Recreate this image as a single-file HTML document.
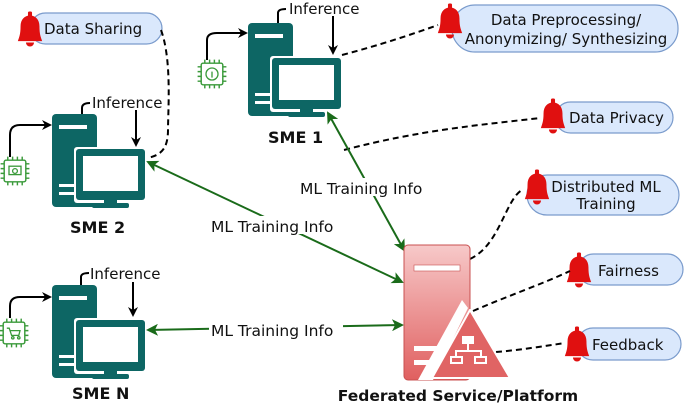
<!DOCTYPE html>
<html><head><meta charset="utf-8"><style>
html,body{margin:0;padding:0;background:#fff}
svg{display:block}
text{font-family:"DejaVu Sans","Liberation Sans",sans-serif}
</style></head><body>
<svg width="685" height="406" viewBox="0 0 685 406" xmlns="http://www.w3.org/2000/svg">
<defs>
<marker id="ab" markerWidth="10" markerHeight="10" refX="8" refY="5" orient="auto" markerUnits="userSpaceOnUse"><path d="M0,0 L10,5 L0,10 L3,5z" fill="#000"/></marker>
<marker id="ag" markerWidth="12" markerHeight="12" refX="10" refY="6" orient="auto-start-reverse" markerUnits="userSpaceOnUse"><path d="M0,0 L12,6 L0,12 L3,6z" fill="#1a6b1a"/></marker>
<linearGradient id="rg" x1="0" y1="0" x2="0" y2="1"><stop offset="0" stop-color="#f7c9c9"/><stop offset="1" stop-color="#e06060"/></linearGradient>
<g id="pc">
 <rect x="0" y="0" width="45" height="93" rx="4" fill="#0d6664"/>
 <rect x="7" y="11" width="28" height="4" fill="#fff"/>
 <rect x="7" y="70" width="20" height="3" fill="#fff"/>
 <rect x="7" y="78" width="20" height="3" fill="#fff"/>
 <rect x="22" y="33" width="73" height="56" rx="3" fill="#fff"/>
 <rect x="24" y="35" width="69" height="51" rx="3" fill="#0d6664"/>
 <rect x="31" y="42" width="55" height="35" fill="#fff"/>
 <rect x="52" y="84" width="13" height="8" fill="#0d6664"/>
 <rect x="40" y="89" width="37" height="5" rx="2" fill="#0d6664"/>
</g>
<g id="chip" fill="none" stroke="#3a9a3a" stroke-width="1.2">
 <rect x="-9" y="-9" width="18" height="18" rx="1.5"/>
 <path d="M-6,-9v-3M-2,-9v-3M2,-9v-3M6,-9v-3M-6,9v3M-2,9v3M2,9v3M6,9v3M-9,-6h-3M-9,-2h-3M-9,2h-3M-9,6h-3M9,-6h3M9,-2h3M9,2h3M9,6h3"/>
</g>
<g id="bell0"><path d="M-9,9 C-8,6 -7,4 -7,-2 C-7,-7 -4,-10 0,-10 C4,-10 7,-7 7,-2 C7,4 8,6 9,9z" fill="#e01010"/><rect x="-1.5" y="-13" width="3" height="4" rx="1" fill="#e01010"/><path d="M-3,10 a3,3 0 0 0 6,0z" fill="#e01010"/></g>
<g id="bell"><use href="#bell0" transform="scale(1.35)"/></g>
</defs>

<!-- pills -->
<g fill="#dae8fc" stroke="#7a9bcc" stroke-width="1.2">
 <rect x="30" y="13" width="132" height="31" rx="15.5"/>
 <rect x="452" y="5" width="226" height="47" rx="23"/>
 <rect x="555" y="102" width="118" height="31" rx="15.5"/>
 <rect x="527" y="175" width="152" height="40" rx="20"/>
 <rect x="578" y="254" width="105" height="31" rx="15.5"/>
 <rect x="577" y="328" width="104" height="32" rx="16"/>
</g>
<g font-size="15" fill="#111">
 <text x="44" y="34">Data Sharing</text>
 <text x="566" y="25" text-anchor="middle">Data Preprocessing/</text>
 <text x="566" y="44" text-anchor="middle">Anonymizing/ Synthesizing</text>
 <text x="569" y="123">Data Privacy</text>
 <text x="606" y="192" text-anchor="middle">Distributed ML</text>
 <text x="606" y="209" text-anchor="middle">Training</text>
 <text x="598" y="276">Fairness</text>
 <text x="592" y="350">Feedback</text>
</g>
<use href="#bell" x="30" y="29"/>
<use href="#bell" x="450" y="21"/>
<use href="#bell" x="553" y="116"/>
<use href="#bell" x="537" y="187"/>
<use href="#bell" x="579" y="270"/>
<use href="#bell" x="577" y="344"/>

<!-- dashed -->
<g fill="none" stroke="#000" stroke-width="2" stroke-dasharray="6,4">
 <path d="M161,30 C172,60 168,110 168,130 C168,150 160,155 148,158"/>
 <path d="M342,55 C380,45 410,35 438,25"/>
 <path d="M344,150 C420,130 480,125 540,118"/>
 <path d="M470,259 C500,245 505,200 522,190"/>
 <path d="M473,311 C510,295 540,285 570,271"/>
 <path d="M496,352 C520,350 545,346 565,343"/>
</g>

<!-- computers -->
<use href="#pc" x="52" y="114"/>
<use href="#pc" x="248" y="23"/>
<use href="#pc" x="52" y="285"/>
<g font-size="16" font-weight="bold" fill="#111">
 <text x="70" y="233">SME 2</text>
 <text x="268" y="143">SME 1</text>
 <text x="72" y="399">SME N</text>
</g>
<g font-size="15" fill="#111">
 <text x="92" y="108">Inference</text>
 <text x="289" y="14">Inference</text>
 <text x="90" y="279">Inference</text>
</g>
<g fill="none" stroke="#000" stroke-width="2">
 <path d="M82,114 v-6 q0,-5 8,-5"/>
 <path d="M136,110 v35" marker-end="url(#ab)"/>
 <path d="M278,23 v-10 q0,-4 8,-4"/>
 <path d="M333,16 v37" marker-end="url(#ab)"/>
 <path d="M81,285 v-8 q0,-4 8,-4"/>
 <path d="M133,282 v33" marker-end="url(#ab)"/>
 <path d="M10,157 v-22 q0,-10 10,-10 h30" marker-end="url(#ab)"/>
 <path d="M207,60 v-20 q0,-7 10,-7 h29" marker-end="url(#ab)"/>
 <path d="M10,318 v-12 q0,-9 10,-9 h30" marker-end="url(#ab)"/>
</g>
<g transform="translate(15,171) scale(1.2)">
<use href="#chip"/>
<g fill="none" stroke="#3a9a3a" stroke-width="1.1"><rect x="-5" y="-4" width="10" height="7"/><circle cx="0" cy="0" r="2"/></g></g>
<g transform="translate(212,74) scale(1.2)">
<use href="#chip"/>
<g fill="none" stroke="#3a9a3a" stroke-width="1.1"><circle cx="0" cy="0" r="5"/><path d="M0,-2v5"/></g></g>
<g transform="translate(14,333) scale(1.2)">
<use href="#chip"/>
<g fill="none" stroke="#3a9a3a" stroke-width="1.1"><path d="M-6,-4h2l2,6h6l1,-4h-8"/><circle cx="-1" cy="4" r="1"/><circle cx="4" cy="4" r="1"/></g></g>

<!-- green connectors -->
<g fill="none" stroke="#1a6b1a" stroke-width="2">
 <path d="M328,113 L404,250" marker-start="url(#ag)" marker-end="url(#ag)"/>
 <path d="M148,162 L402,282" marker-start="url(#ag)" marker-end="url(#ag)"/>
 <path d="M148,330 L402,325" marker-start="url(#ag)" marker-end="url(#ag)"/>
</g>
<g font-size="15.5" fill="#111">
 <rect x="298" y="178" width="134" height="18" fill="#fff"/>
 <text x="300" y="194">ML Training Info</text>
 <rect x="209" y="216" width="134" height="18" fill="#fff"/>
 <text x="211" y="232">ML Training Info</text>
 <rect x="209" y="321" width="134" height="18" fill="#fff"/>
 <text x="211" y="336">ML Training Info</text>
</g>

<!-- server -->
<rect x="404" y="245" width="66" height="135" rx="4" fill="url(#rg)" stroke="#c85050" stroke-width="1"/>
<rect x="414" y="265" width="46" height="6" fill="#fff" stroke="#c85050" stroke-width="0.6"/>
<rect x="414" y="346" width="30" height="5" fill="#fff"/>
<rect x="414" y="360" width="26" height="5" fill="#fff"/>
<path d="M468,308 L433,380 L418,380 L462,300z" fill="#fff"/>
<path d="M470,310 L510,378 L432,378z" fill="#e06464" stroke="#fff" stroke-width="2" stroke-linejoin="round"/>
<g fill="#fff"><rect x="462" y="336" width="12" height="8"/><rect x="467" y="344" width="2" height="6"/><rect x="455" y="350" width="27" height="2"/><rect x="455" y="350" width="2" height="6"/><rect x="480" y="350" width="2" height="6"/><rect x="450" y="356" width="13" height="8"/><rect x="474" y="356" width="13" height="8"/></g>
<g fill="#e06464"><rect x="452" y="358" width="9" height="4"/><rect x="476" y="358" width="9" height="4"/></g>
<text x="458" y="401" font-size="15.5" font-weight="bold" fill="#111" text-anchor="middle" font-family="Liberation Sans,sans-serif">Federated Service/Platform</text>
</svg>
</body></html>
